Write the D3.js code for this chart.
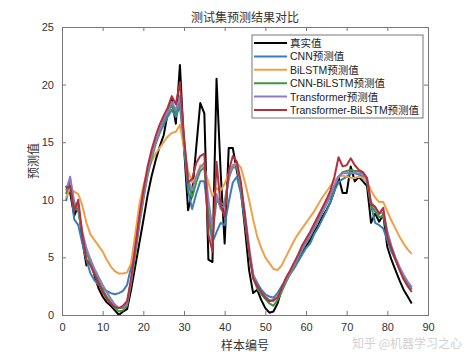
<!DOCTYPE html>
<html><head><meta charset="utf-8">
<script src="https://cdn.jsdelivr.net/npm/d3@7"></script>
<style>body{margin:0;background:#fff}svg{display:block}</style>
</head><body><svg id="c" width="474" height="355"></svg>
<script>
const seriesNames = ["真实值","CNN预测值","BiLSTM预测值","CNN-BiLSTM预测值","Transformer预测值","Transformer-BiLSTM预测值"];
const xTicks = [0,10,20,30,40,50,60,70,80,90];
const yTicks = [0,5,10,15,20,25];
const trueVals = [11.2,10.6,8.6,9.5,6.5,4.3,4.8,3.4,2.3,1.6,1.1,0.8,0.4,0.0,0.3,0.5,2.2,4.2,6.2,8.2,10.3,12.0,13.4,14.6,15.6,17.5,18.7,16.6,21.7,14.6,9.1,10.6,14.5,18.4,17.5,4.8,4.6,20.5,12.5,6.2,14.5,14.5,12.5,10.8,7.5,3.9,1.9,2.2,1.3,0.6,0.2,0.3,1.0,2.2,3.0,3.6,4.2,4.8,5.5,6.0,6.5,7.2,7.8,8.5,9.1,9.8,10.8,12.0,10.6,10.6,12.9,11.6,12.0,11.6,11.2,8.0,8.8,8.1,8.7,5.9,4.8,3.9,3.0,2.2,1.6,1.0];
const cnnVals = [9.9,11.6,8.3,7.8,6.2,4.8,3.6,3.0,2.6,2.3,2.1,1.9,1.8,1.9,2.1,2.6,4.2,6.5,8.8,10.8,12.3,13.8,15.0,15.8,16.5,17.2,17.8,17.2,18.2,14.5,10.8,9.2,10.5,11.6,11.6,8.5,6.3,7.2,8.0,7.8,9.8,11.5,12.0,10.5,8.0,5.5,3.5,2.8,2.2,1.8,1.6,1.5,1.9,2.5,3.0,3.5,4.0,4.6,5.2,5.8,6.2,7.0,7.6,8.3,9.0,9.8,10.8,11.5,11.8,12.0,12.3,12.3,12.2,12.0,11.5,9.5,8.0,7.8,7.5,6.5,5.5,4.8,4.0,3.3,2.8,2.4];
const bilstmVals = [10.2,11.0,10.7,10.5,9.5,8.0,7.0,6.5,6.0,5.5,4.8,4.2,3.8,3.6,3.6,3.7,4.5,7.0,9.5,11.2,12.5,13.3,14.0,14.5,15.0,15.5,15.8,15.9,16.5,14.5,12.5,11.5,12.0,13.0,12.8,11.5,10.3,11.0,10.8,11.4,12.3,13.0,13.2,12.8,11.5,10.0,8.3,6.8,5.8,5.0,4.5,4.0,3.9,4.3,5.0,5.7,6.4,7.0,7.5,8.0,8.5,9.0,9.6,10.2,10.7,11.2,11.7,12.0,12.1,12.0,11.9,11.9,12.0,11.9,11.6,10.8,10.2,9.8,9.8,9.0,8.2,7.5,6.8,6.2,5.7,5.3];
const cnnBilstmVals = [10.5,11.8,9.5,9.0,7.0,5.5,4.5,3.8,3.0,2.2,1.6,1.1,0.6,0.3,0.4,0.8,2.8,5.2,7.8,10.0,12.0,13.5,14.8,15.8,16.8,17.5,18.2,17.5,18.8,15.0,11.5,10.2,11.5,12.5,12.8,9.0,7.0,10.0,9.5,9.8,12.0,12.8,12.8,11.0,8.5,5.5,3.2,2.3,1.8,1.4,1.0,0.8,1.3,2.0,2.8,3.5,4.2,4.9,5.6,6.2,6.8,7.5,8.2,8.9,9.6,10.3,11.2,12.0,12.4,12.5,12.6,12.5,12.5,12.3,11.8,9.5,9.0,8.5,8.6,7.0,5.8,4.8,4.0,3.3,2.7,2.2];
const transVals = [10.8,12.0,9.8,9.3,7.2,5.8,4.8,4.0,3.3,2.6,2.0,1.4,0.9,0.6,0.6,1.0,3.0,5.5,8.0,10.2,12.2,13.8,15.0,16.0,17.0,17.6,18.5,17.8,19.0,15.2,11.8,10.8,12.0,12.8,13.2,10.0,7.5,10.5,9.2,9.5,11.8,13.0,13.0,11.2,8.8,6.0,3.5,2.5,2.0,1.6,1.3,1.2,1.6,2.2,3.0,3.6,4.3,5.0,5.7,6.3,6.9,7.6,8.3,9.0,9.7,10.4,11.3,12.0,12.3,12.3,12.4,12.3,12.3,12.2,11.8,9.8,9.3,8.8,8.9,7.3,6.0,5.0,4.2,3.5,2.9,2.4];
const transBilstmVals = [11.0,11.2,9.0,10.0,7.0,4.8,4.3,3.5,2.7,2.0,1.4,1.0,0.7,0.6,0.8,1.2,3.2,5.8,8.5,10.8,12.8,14.3,15.5,16.5,17.3,18.0,19.0,18.3,20.2,15.5,11.5,11.8,13.2,13.8,14.0,7.0,5.5,13.3,9.5,8.5,12.5,13.8,13.3,11.5,8.5,5.5,3.2,2.5,2.0,1.5,1.2,1.3,1.5,2.3,3.2,3.8,4.5,5.2,6.0,6.6,7.2,7.9,8.6,9.3,10.0,10.8,12.0,13.7,12.9,13.0,13.6,13.0,12.6,12.4,11.9,9.6,9.4,8.8,9.3,6.8,5.8,4.8,3.9,3.1,2.5,2.0];
const allSeries = [trueVals,cnnVals,bilstmVals,cnnBilstmVals,transVals,transBilstmVals];
const colors = ["#000000","#3a7db8","#f0a048","#3a9a3a","#8e7cc3","#b0303c"];

const svg = d3.select("#c");
const L=62,R=428,T=27,B=315;
const x = d3.scaleLinear().domain([0,90]).range([L,R]);
const y = d3.scaleLinear().domain([0,25]).range([B,T]);
const tickFont = "'Liberation Sans', Arial, sans-serif";
const cjk = "'Noto Sans CJK SC', sans-serif";

const line = d3.line().x((d,i)=>x(i+1)).y(d=>y(d));
allSeries.forEach((s,k)=>{
  svg.append("path").attr("d",line(s)).attr("fill","none")
    .attr("stroke",colors[k]).attr("stroke-width",2).attr("stroke-linejoin","round");
});

const axCol="#777";
const gx = svg.append("g").attr("transform",`translate(0,${B})`)
  .call(d3.axisBottom(x).tickValues(xTicks).tickSize(-4).tickPadding(8));
const gxt = svg.append("g").attr("transform",`translate(0,${T})`)
  .call(d3.axisTop(x).tickValues(xTicks).tickSize(-4).tickFormat(""));
const gy = svg.append("g").attr("transform",`translate(${L},0)`)
  .call(d3.axisLeft(y).tickValues(yTicks).tickSize(-4).tickPadding(8));
const gyr = svg.append("g").attr("transform",`translate(${R},0)`)
  .call(d3.axisRight(y).tickValues(yTicks).tickSize(-4).tickFormat(""));
[gx,gxt,gy,gyr].forEach(g=>{
  g.selectAll("path").attr("stroke",axCol);
  g.selectAll("line").attr("stroke",axCol);
  g.selectAll("text").attr("fill","#333").style("font-family",tickFont).style("font-size","11px");
});

svg.append("text").attr("x",245).attr("y",22).attr("text-anchor","middle")
  .style("font-family",cjk).style("font-size","12px").attr("fill","#333").text("测试集预测结果对比");
svg.append("text").attr("x",245).attr("y",350).attr("text-anchor","middle")
  .style("font-family",cjk).style("font-size","12px").attr("fill","#333").text("样本编号");
svg.append("text").attr("transform","translate(38,161) rotate(-90)").attr("text-anchor","middle")
  .style("font-family",cjk).style("font-size","12px").attr("fill","#333").text("预测值");

const lg = svg.append("g");
lg.append("rect").attr("x",252).attr("y",35).attr("width",171).attr("height",83)
  .attr("fill","#fff").attr("stroke","#777").attr("stroke-width",1);
seriesNames.forEach((n,k)=>{
  const yy = 43 + k*13.4;
  lg.append("line").attr("x1",254).attr("x2",287).attr("y1",yy).attr("y2",yy)
    .attr("stroke",colors[k]).attr("stroke-width",2);
  lg.append("text").attr("x",290).attr("y",yy+4).attr("fill","#222")
    .style("font-family",tickFont+","+cjk).style("font-size","10.5px").text(n);
});

svg.append("text").attr("x",462).attr("y",348).attr("text-anchor","end").attr("fill","#d0d0d0")
  .style("font-family",cjk).style("font-size","12px").text("知乎 @机器学习之心");
</script></body></html>
